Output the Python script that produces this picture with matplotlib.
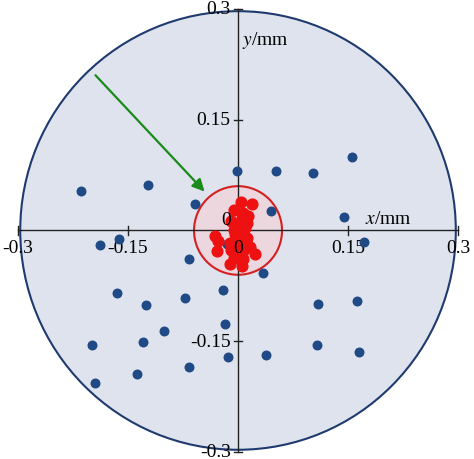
import matplotlib
matplotlib.use("Agg")
import matplotlib.pyplot as plt
from matplotlib.patches import Circle, FancyArrowPatch

red_x = [0.004,0.019,-0.006,0.007,0.014,0.005,-0.009,0.012,-0.002,0.010,-0.006,0.005,-0.004,-0.031,-0.027,
         -0.011,-0.001,0.010,0.016,0.023,-0.029,-0.009,0.007,-0.006,0.007,-0.011,0.005,0.000,-0.002,0.012]
red_y = [0.038,0.036,0.028,0.024,0.019,0.017,0.013,0.010,0.006,0.004,0.001,-0.001,-0.005,-0.008,-0.014,
         -0.017,-0.019,-0.021,-0.023,-0.032,-0.028,-0.026,-0.028,-0.037,-0.039,-0.046,-0.048,-0.032,-0.010,-0.010]
blue_x = [-0.214,-0.123,-0.001,0.052,0.102,0.156,0.145,-0.059,0.045,-0.015,-0.188,-0.162,0.172,-0.067,0.034,
          -0.165,-0.126,-0.072,-0.020,-0.101,-0.130,-0.018,0.109,0.162,-0.199,-0.195,-0.138,-0.067,-0.014,0.038,0.108,0.165]
blue_y = [0.053,0.061,0.080,0.081,0.078,0.099,0.018,0.036,0.026,-0.018,-0.020,-0.012,-0.016,-0.038,-0.058,
          -0.085,-0.101,-0.092,-0.080,-0.136,-0.151,-0.127,-0.099,-0.096,-0.155,-0.207,-0.195,-0.185,-0.172,-0.168,-0.155,-0.164]
ticks = [-0.3, -0.15, 0.15, 0.3]
tick_labels = ["-0.3", "-0.15", "0.15", "0.3"]

plt.rcParams['font.family'] = ['Liberation Serif', 'DejaVu Serif']
plt.rcParams['mathtext.fontset'] = 'stix'
fig = plt.figure(figsize=(4.74, 4.6), dpi=100)
ax = fig.add_axes([0, 0, 1, 1])
ax.set_xlim(-0.3246, 0.3218)
ax.set_ylim(-0.3095, 0.3135)
ax.axis('off')

ax.add_patch(Circle((0, 0), 0.297, facecolor='#dfe3ee', edgecolor='#1f3a6e', lw=1.5, zorder=1))
ax.add_patch(Circle((0, 0), 0.06, facecolor='#ecd7de', edgecolor='#d42020', lw=1.5, zorder=2))
ax.plot([-0.3, 0.3], [0, 0], color='#222222', lw=1, zorder=3)
ax.plot([0, 0], [-0.3, 0.3], color='#222222', lw=1, zorder=3)
for t, lab in zip(ticks, tick_labels):
    ax.plot([t, t], [-0.006, 0.006], color='#222222', lw=1, zorder=3)
    ax.plot([-0.006, 0.006], [t, t], color='#222222', lw=1, zorder=3)
    ax.text(t, -0.012, lab, ha='center', va='top', fontsize=14)
    ax.text(-0.01, t, lab, ha='right', va='center', fontsize=14)
ax.text(-0.01, 0.003, "0", ha='right', va='bottom', fontsize=14, zorder=6)
ax.text(0.0, -0.012, "0", ha='center', va='top', fontsize=14, zorder=6)
ax.text(0.205, 0.005, "$\\mathit{x}$/mm", ha='center', va='bottom', fontsize=14)
ax.text(0.005, 0.258, "$\\mathit{y}$/mm", ha='left', va='center', fontsize=14)

ax.add_patch(FancyArrowPatch((-0.197, 0.213), (-0.043, 0.05), arrowstyle='-|>', mutation_scale=18,
                             color='#1a8a1a', lw=1.6, zorder=4))
ax.scatter(blue_x, blue_y, s=38, color='#1f4a85', zorder=5)
ax.scatter(red_x, red_y, s=60, color='#ee1111', zorder=5)
fig.savefig("out.png", dpi=100)
